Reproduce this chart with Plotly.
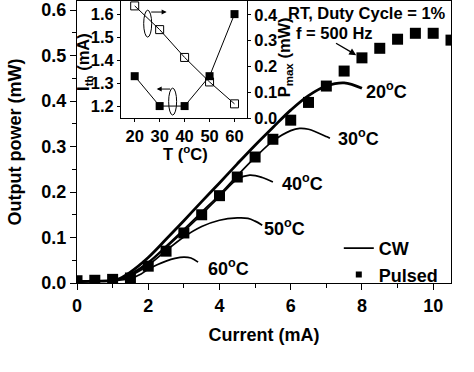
import plotly.graph_objects as go

# ---- main plot data ----
pulsed_current = [0, 0.5, 1.0, 1.5, 2.0, 2.5, 3.0, 3.5, 4.0, 4.5, 5.0, 5.5,
                  6.0, 6.5, 7.0, 7.5, 8.0, 8.5, 9.0, 9.5, 10.0, 10.5]
pulsed_power = [0.005, 0.006, 0.008, 0.011, 0.037, 0.070, 0.110, 0.150, 0.192, 0.233, 0.277, 0.316,
                0.358, 0.397, 0.433, 0.466, 0.495, 0.516, 0.536, 0.549, 0.549, 0.534]

cw20_current = [0, 0.5, 1.0, 1.2, 1.5, 2.0, 2.5, 3.0, 3.5, 4.0, 4.5, 5.0, 5.5, 6.0, 6.5, 7.0, 7.5, 8.0]
cw20_power = [0.003, 0.004, 0.006, 0.010, 0.024, 0.056, 0.096, 0.137, 0.179, 0.220, 0.262, 0.303,
              0.342, 0.380, 0.412, 0.433, 0.440, 0.428]

cw30_current = [0, 0.5, 1.0, 1.2, 1.5, 2.0, 2.5, 3.0, 3.5, 4.0, 4.5, 5.0, 5.5, 6.0, 6.25, 6.5, 7.0, 7.1]
cw30_power = [0.003, 0.004, 0.006, 0.009, 0.020, 0.046, 0.081, 0.118, 0.156, 0.194, 0.236, 0.276,
              0.312, 0.335, 0.340, 0.338, 0.322, 0.318]

cw40_current = [0, 0.5, 1.0, 1.3, 1.6, 2.0, 2.5, 3.0, 3.5, 4.0, 4.5, 4.85, 5.2, 5.5]
cw40_power = [0.003, 0.004, 0.006, 0.010, 0.022, 0.044, 0.078, 0.114, 0.151, 0.190, 0.228, 0.237, 0.232, 0.222]

cw50_current = [0, 0.5, 1.0, 1.3, 1.6, 2.0, 2.5, 3.0, 3.5, 4.0, 4.5, 4.8, 5.0, 5.2]
cw50_power = [0.003, 0.004, 0.006, 0.010, 0.020, 0.039, 0.071, 0.101, 0.124, 0.138, 0.143, 0.142, 0.136, 0.127]

cw60_current = [0, 0.5, 1.0, 1.5, 1.8, 2.0, 2.25, 2.5, 2.75, 3.0, 3.2, 3.4]
cw60_power = [0.003, 0.004, 0.005, 0.010, 0.020, 0.030, 0.040, 0.048, 0.054, 0.057, 0.055, 0.046]

curve_labels = ["20", "30", "40", "50", "60"]
label_x = [8.07, 7.28, 5.69, 5.20, 3.62]
label_y = [0.424, 0.319, 0.220, 0.121, 0.035]

# ---- inset data ----
inset_T = [20, 30, 40, 50, 60]
inset_Ith = [1.33, 1.20, 1.20, 1.33, 1.60]
inset_Pmax = [0.435, 0.343, 0.235, 0.140, 0.055]

FONT = "Arial, Liberation Sans, sans-serif"
fig = go.Figure()

cw_sets = [(cw20_current, cw20_power, 2.8), (cw30_current, cw30_power, 1.7),
           (cw40_current, cw40_power, 1.7), (cw50_current, cw50_power, 1.7),
           (cw60_current, cw60_power, 1.7)]
for cx, cy, w in cw_sets:
    fig.add_trace(go.Scatter(x=cx, y=cy, mode="lines", line=dict(color="black", width=w, shape="spline"),
                             showlegend=False, xaxis="x", yaxis="y"))

fig.add_trace(go.Scatter(x=pulsed_current, y=pulsed_power, mode="markers",
                         marker=dict(symbol="square", size=11, color="black"),
                         showlegend=False, xaxis="x", yaxis="y"))

# legend entries
fig.add_trace(go.Scatter(x=[None], y=[None], mode="lines", name="CW",
                         line=dict(color="black", width=1.7)))
fig.add_trace(go.Scatter(x=[None], y=[None], mode="markers", name="Pulsed",
                         marker=dict(symbol="square", size=6, color="black")))

# inset traces
fig.add_trace(go.Scatter(x=inset_T, y=inset_Ith, mode="lines+markers",
                         line=dict(color="black", width=1),
                         marker=dict(symbol="square", size=8, color="black"),
                         showlegend=False, xaxis="x2", yaxis="y2"))
fig.add_trace(go.Scatter(x=inset_T, y=inset_Pmax, mode="lines+markers",
                         line=dict(color="black", width=1),
                         marker=dict(symbol="square-open", size=8, color="black", line=dict(width=1)),
                         showlegend=False, xaxis="x2", yaxis="y3"))

annotations = []
for lab, lx, ly in zip(curve_labels, label_x, label_y):
    annotations.append(dict(x=lx, y=ly, xref="x", yref="y", text=f"{lab}<sup>o</sup>C",
                            showarrow=False, xanchor="left", yanchor="middle",
                            font=dict(family=FONT, size=18, color="black")))
annotations.append(dict(x=0.993, y=0.998, xref="paper", yref="paper", text="RT, Duty Cycle = 1%",
                        showarrow=False, xanchor="right", yanchor="top",
                        font=dict(family=FONT, size=16.5, color="black")))
annotations.append(dict(x=6.1, y=0.549, xref="x", yref="y", text="f = 500 Hz",
                        showarrow=False, xanchor="left", yanchor="middle",
                        font=dict(family=FONT, size=16.5, color="black")))
annotations.append(dict(x=7.84, y=0.501, ax=7.23, ay=0.529, xref="x", yref="y", axref="x", ayref="y",
                        text="", showarrow=True, arrowhead=2, arrowsize=1, arrowwidth=1.4,
                        arrowcolor="black"))
# inset axis titles
annotations.append(dict(x=0.0187, y=0.784, xref="paper", yref="paper", text="I<sub>th</sub> (mA)",
                        textangle=-90, showarrow=False, xanchor="center", yanchor="middle",
                        font=dict(family=FONT, size=16.5, color="black")))
annotations.append(dict(x=0.556, y=0.80, xref="paper", yref="paper", text="P<sub>max</sub> (mW)",
                        textangle=-90, showarrow=False, xanchor="center", yanchor="middle",
                        font=dict(family=FONT, size=16.5, color="black")))
annotations.append(dict(x=0.289, y=0.462, xref="paper", yref="paper", text="T (<sup>o</sup>C)",
                        showarrow=False, xanchor="center", yanchor="middle",
                        font=dict(family=FONT, size=16.5, color="black")))
# inset arrows
annotations.append(dict(x=32.8, y=1.609, ax=26.0, ay=1.609, xref="x2", yref="y2", axref="x2", ayref="y2",
                        text="", showarrow=True, arrowhead=2, arrowsize=1, arrowwidth=1,
                        arrowcolor="black"))
annotations.append(dict(x=28.8, y=1.274, ax=34.8, ay=1.274, xref="x2", yref="y2", axref="x2", ayref="y2",
                        text="", showarrow=True, arrowhead=2, arrowsize=1, arrowwidth=1,
                        arrowcolor="black"))

shapes = [
    dict(type="circle", xref="x2", yref="y2", x0=23.6, x1=26.8, y0=1.50, y1=1.617,
         line=dict(color="black", width=1)),
    dict(type="circle", xref="x2", yref="y2", x0=33.6, x1=36.8, y0=1.161, y1=1.278,
         line=dict(color="black", width=1)),
]

axis_font = dict(family=FONT, size=18, color="black")
inset_font = dict(family=FONT, size=16.5, color="black")

fig.update_layout(
    width=474, height=372,
    margin=dict(l=77, r=23, t=1, b=89),
    paper_bgcolor="white", plot_bgcolor="white",
    font=dict(family=FONT, color="black"),
    xaxis=dict(domain=[0, 1], range=[0, 10.5], tickvals=[0, 2, 4, 6, 8, 10], automargin=False,
               ticks="outside", ticklen=6, tickwidth=1.2, tickcolor="black",
               minor=dict(tickvals=[1, 3, 5, 7, 9], ticks="outside", ticklen=4, tickcolor="black"),
               showline=True, linecolor="black", linewidth=1.2, mirror=True,
               showgrid=False, zeroline=False, tickfont=axis_font,
               title=dict(text="<b>Current (mA)</b>", font=axis_font, standoff=13)),
    yaxis=dict(domain=[0, 1], range=[0, 0.62], tickvals=[0, 0.1, 0.2, 0.3, 0.4, 0.5, 0.6], automargin=False,
               ticktext=["0.0", "0.1", "0.2", "0.3", "0.4", "0.5", "0.6"],
               ticks="outside", ticklen=6, tickwidth=1.2, tickcolor="black",
               minor=dict(tickvals=[0.05, 0.15, 0.25, 0.35, 0.45, 0.55], ticks="outside", ticklen=4,
                          tickcolor="black"),
               showline=True, linecolor="black", linewidth=1.2, mirror=True,
               showgrid=False, zeroline=False, tickfont=axis_font,
               title=dict(text="<b>Output power (mW)</b>", font=axis_font, standoff=14)),
    xaxis2=dict(domain=[0.1176, 0.4545], anchor="y2", range=[14.5, 65], tickvals=[20, 30, 40, 50, 60],
                automargin=False,
                ticks="outside", ticklen=3, tickcolor="black",
                showline=True, linecolor="black", linewidth=1, showgrid=False, zeroline=False,
                tickfont=inset_font),
    yaxis2=dict(domain=[0.585, 1.0], anchor="x2", range=[1.148, 1.657], automargin=False,
                tickvals=[1.2, 1.3, 1.4, 1.5, 1.6], ticks="outside", ticklen=3, tickcolor="black",
                showline=True, linecolor="black", linewidth=1, showgrid=False, zeroline=False,
                tickfont=inset_font),
    yaxis3=dict(overlaying="y2", side="right", anchor="x2", range=[0, 0.454], automargin=False,
                tickvals=[0, 0.1, 0.2, 0.3, 0.4], ticktext=["0.0", "0.1", "0.2", "0.3", "0.4"],
                ticks="outside", ticklen=3, tickcolor="black",
                showline=True, linecolor="black", linewidth=1, showgrid=False, zeroline=False,
                tickfont=inset_font),
    legend=dict(x=0.70, y=-0.035, xanchor="left", yanchor="bottom", bgcolor="rgba(0,0,0,0)",
                font=dict(family=FONT, size=18, color="black"), tracegroupgap=0, itemwidth=30),
    annotations=annotations,
    shapes=shapes,
)

for ax in ["xaxis", "yaxis", "xaxis2", "yaxis2", "yaxis3"]:
    fig.layout[ax].tickfont.weight = "bold"
fig.layout.legend.font.weight = "bold"
for a in fig.layout.annotations:
    a.font.weight = "bold"

fig.write_html("out.html", config={"displayModeBar": False},
               post_script="document.body.style.margin='0';document.body.style.overflow='hidden';")
